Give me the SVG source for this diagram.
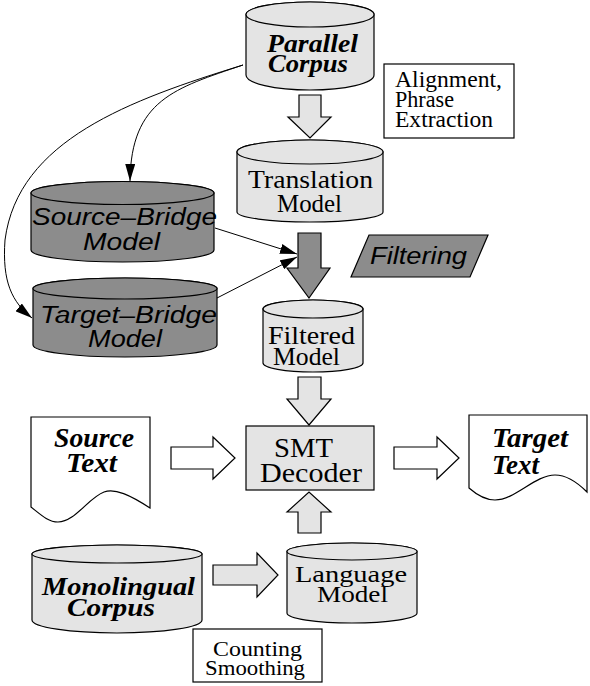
<svg xmlns="http://www.w3.org/2000/svg" width="590" height="686" viewBox="0 0 590 686">
<style>
.lt{fill:#e4e4e4;stroke:#000;stroke-width:1.2}
.dk{fill:#8c8c8c;stroke:#000;stroke-width:1.2}
.wh{fill:#fff;stroke:#000;stroke-width:1.2}
.ser{font-family:"Liberation Serif","Times New Roman",serif;fill:#000}
.bi{font-family:"Liberation Serif","Times New Roman",serif;font-weight:bold;font-style:italic;fill:#000}
.si{font-family:"Liberation Sans",Arial,sans-serif;font-style:italic;fill:#000}
.con{fill:none;stroke:#000;stroke-width:1}
</style>
<defs>
<marker id="ah" markerUnits="userSpaceOnUse" markerWidth="18" markerHeight="10" refX="17" refY="5" orient="auto">
<path d="M0,0 L17,5 L0,10 z" fill="#000"/>
</marker>
</defs>
<rect width="590" height="686" fill="#fff"/>

<g id="connectors">
<path class="con" d="M243,65 C175,88 131,100 130,181" marker-end="url(#ah)"/>
<path class="con" d="M243,65 C130,100 18,140 5,240 C2,282 12,302 32,318" marker-end="url(#ah)"/>
<path class="con" d="M215,228 L297,254" marker-end="url(#ah)"/>
<path class="con" d="M217,298 L297,257" marker-end="url(#ah)"/>
</g>

<g id="parallel-corpus">
<path class="lt" d="M246,14.5 L246,75 A64,15 0 0 0 374,75 L374,14.5 A64,12.5 0 0 0 246,14.5 z"/>
<ellipse class="lt" cx="310" cy="14.5" rx="64" ry="12.5"/>
<text class="bi" font-size="26" x="267" y="52" textLength="91" lengthAdjust="spacingAndGlyphs">Parallel</text>
<text class="bi" font-size="26" x="268" y="72" textLength="80" lengthAdjust="spacingAndGlyphs">Corpus</text>
</g>

<g id="alignment">
<rect class="wh" x="384" y="64" width="130" height="74"/>
<text class="ser" font-size="24" x="395" y="87" textLength="107" lengthAdjust="spacingAndGlyphs">Alignment,</text>
<text class="ser" font-size="24" x="395" y="107" textLength="59" lengthAdjust="spacingAndGlyphs">Phrase</text>
<text class="ser" font-size="24" x="395" y="127" textLength="98" lengthAdjust="spacingAndGlyphs">Extraction</text>
</g>

<g id="arrow-pc-tm">
<path class="lt" d="M299,95 L321,95 L321,117 L331,117 L310,138 L288,117 L299,117 z"/>
</g>

<g id="translation-model">
<path class="lt" d="M237,152 L237,212 A73,10 0 0 0 383,212 L383,152 A73,12 0 0 0 237,152 z"/>
<ellipse class="lt" cx="310" cy="152" rx="73" ry="12"/>
<text class="ser" font-size="25" x="248" y="188" textLength="125" lengthAdjust="spacingAndGlyphs">Translation</text>
<text class="ser" font-size="25" x="277" y="212" textLength="65" lengthAdjust="spacingAndGlyphs">Model</text>
</g>

<g id="source-bridge">
<path class="dk" d="M31,193 L31,250 A91.5,12 0 0 0 214,250 L214,193 A91.5,11.5 0 0 0 31,193 z"/>
<ellipse class="dk" cx="122.5" cy="193" rx="91.5" ry="11.5"/>
<text class="si" font-size="23" x="32" y="225" textLength="185" lengthAdjust="spacingAndGlyphs">Source–Bridge</text>
<text class="si" font-size="23" x="83" y="250" textLength="77" lengthAdjust="spacingAndGlyphs">Model</text>
</g>

<g id="target-bridge">
<path class="dk" d="M33,288.5 L33,345 A92,12 0 0 0 217,345 L217,288.5 A92,10.5 0 0 0 33,288.5 z"/>
<ellipse class="dk" cx="125" cy="288.5" rx="92" ry="10.5"/>
<text class="si" font-size="23" x="40" y="323" textLength="177" lengthAdjust="spacingAndGlyphs">Target–Bridge</text>
<text class="si" font-size="23" x="88" y="347" textLength="74" lengthAdjust="spacingAndGlyphs">Model</text>
</g>

<g id="filter-arrow">
<path class="dk" d="M298,233 L321,233 L321,268 L330,268 L309,298 L287,268 L298,268 z"/>
</g>

<g id="filtering">
<path class="dk" d="M369,235 L488,235 L470,277 L351,277 z"/>
<text class="si" font-size="24" x="370" y="264" textLength="97" lengthAdjust="spacingAndGlyphs">Filtering</text>
</g>

<g id="filtered-model">
<path class="lt" d="M263,309 L263,363 A50,9 0 0 0 363,363 L363,309 A50,9 0 0 0 263,309 z"/>
<ellipse class="lt" cx="313" cy="309" rx="50" ry="9"/>
<text class="ser" font-size="25" x="268" y="344" textLength="87" lengthAdjust="spacingAndGlyphs">Filtered</text>
<text class="ser" font-size="25" x="273" y="365" textLength="67" lengthAdjust="spacingAndGlyphs">Model</text>
</g>

<g id="arrow-fm-smt">
<path class="lt" d="M298,377 L321,377 L321,399 L331,399 L309,425 L287,399 L298,399 z"/>
</g>

<g id="source-text">
<path class="wh" d="M31,417 L150,417 L150,508 C130,495 115,488 104,492 C88,498 75,522 58,522 C48,522 40,514 31,507 z"/>
<text class="bi" font-size="28" x="54" y="447" textLength="80" lengthAdjust="spacingAndGlyphs">Source</text>
<text class="bi" font-size="28" x="66" y="472" textLength="51" lengthAdjust="spacingAndGlyphs">Text</text>
</g>

<g id="arrow-st-smt">
<path class="wh" d="M171,447 L213,447 L213,437 L235,458 L213,479 L213,469 L171,469 z"/>
</g>

<g id="smt-decoder">
<rect class="lt" x="246" y="426" width="128" height="64"/>
<text class="ser" font-size="27" x="274" y="457" textLength="59" lengthAdjust="spacingAndGlyphs">SMT</text>
<text class="ser" font-size="27" x="260" y="482" textLength="102" lengthAdjust="spacingAndGlyphs">Decoder</text>
</g>

<g id="arrow-smt-tt">
<path class="wh" d="M394,447 L437,447 L437,437 L459,458 L437,479 L437,469 L394,469 z"/>
</g>

<g id="target-text">
<path class="wh" d="M469,415 L587,415 L587,492 C578,483 568,475 555,475 C535,475 515,500 495,500 C485,500 477,495 469,488 z"/>
<text class="bi" font-size="28" x="492" y="447" textLength="76" lengthAdjust="spacingAndGlyphs">Target</text>
<text class="bi" font-size="28" x="492" y="474" textLength="47" lengthAdjust="spacingAndGlyphs">Text</text>
</g>

<g id="arrow-lm-smt">
<path class="lt" d="M298,533 L321,533 L321,512 L331,512 L309,492 L287,512 L298,512 z"/>
</g>

<g id="monolingual-corpus">
<path class="lt" d="M32,554 L32,620 A85,13 0 0 0 202,620 L202,554 A85,9 0 0 0 32,554 z"/>
<ellipse class="lt" cx="117" cy="554" rx="85" ry="9"/>
<text class="bi" font-size="25" x="42" y="595" textLength="153" lengthAdjust="spacingAndGlyphs">Monolingual</text>
<text class="bi" font-size="25" x="67" y="616" textLength="88" lengthAdjust="spacingAndGlyphs">Corpus</text>
</g>

<g id="arrow-mc-lm">
<path class="lt" d="M213,565 L257,565 L257,553 L278,575 L257,597 L257,585 L213,585 z"/>
</g>

<g id="language-model">
<path class="lt" d="M287,551.5 L287,613 A65,10 0 0 0 417,613 L417,551.5 A65,8.5 0 0 0 287,551.5 z"/>
<ellipse class="lt" cx="352" cy="551.5" rx="65" ry="8.5"/>
<text class="ser" font-size="24" x="295" y="582" textLength="112" lengthAdjust="spacingAndGlyphs">Language</text>
<text class="ser" font-size="24" x="317" y="602" textLength="71" lengthAdjust="spacingAndGlyphs">Model</text>
</g>

<g id="counting">
<rect class="wh" x="193" y="629" width="129" height="53"/>
<text class="ser" font-size="22" x="213" y="656" textLength="89" lengthAdjust="spacingAndGlyphs">Counting</text>
<text class="ser" font-size="22" x="205" y="675" textLength="100" lengthAdjust="spacingAndGlyphs">Smoothing</text>
</g>
</svg>
